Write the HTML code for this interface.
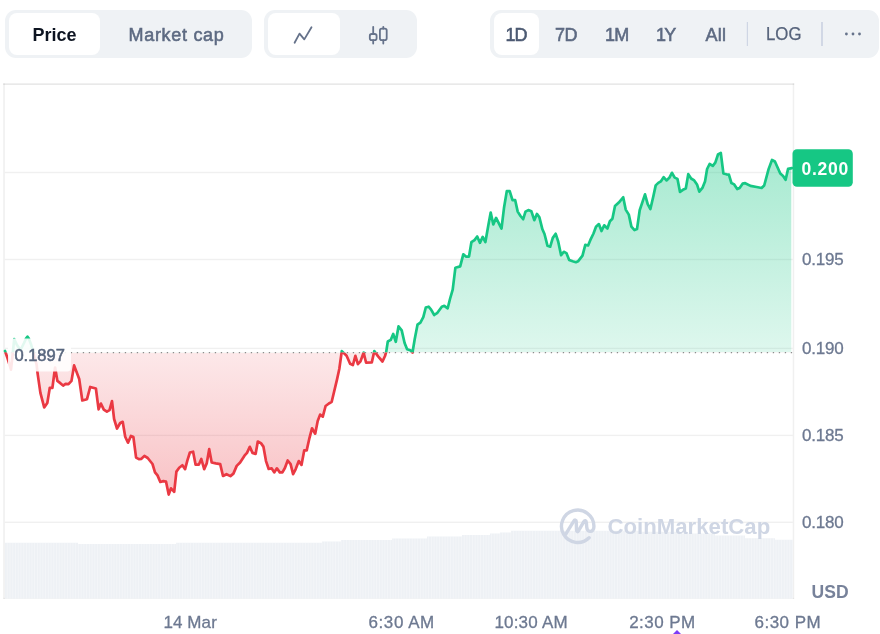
<!DOCTYPE html>
<html lang="en"><head><meta charset="utf-8"><title>Chart</title>
<style>
html,body{margin:0;padding:0;background:#fff;}
body{width:880px;height:634px;overflow:hidden;position:relative;font-family:"Liberation Sans",sans-serif;}
.seg{position:absolute;top:10px;height:48px;background:#eff2f5;border-radius:11px;}
.btn{position:absolute;top:3px;height:42px;background:#fff;border-radius:8px;}
.t{position:absolute;white-space:nowrap;color:#616e85;line-height:20px;height:20px;}
svg{position:absolute;left:0;top:0;}
.md{-webkit-text-stroke:0.55px currentColor;}
.ya,.xa{-webkit-text-stroke:0.3px currentColor;color:#6d7991;font-size:17px;}
</style></head><body>
<div class="seg" style="left:5px;width:247px"><div class="btn" style="left:3.5px;width:91.5px"></div></div>
<div class="seg" style="left:264px;width:153px"><div class="btn" style="left:3.5px;width:72px"></div></div>
<div class="seg" style="left:490px;width:388.5px"><div class="btn" style="left:3.5px;width:45px"></div></div>
<div class="t" id="tprice" style="left:32.5px;top:24.5px;font-size:18px;font-weight:bold;color:#0d1421;">Price</div>
<div class="t md" id="tmcap" style="left:128.5px;top:24.5px;font-size:18px;letter-spacing:0.7px;color:#5d6a82;">Market cap</div>
<div class="t rb md" id="t1d" style="left:505.6px;top:24.5px;font-size:18px;letter-spacing:-1.2px;color:#4c5a72;">1D</div>
<div class="t rb md" id="t7d" style="left:555.1px;top:24.5px;font-size:18px;letter-spacing:-0.7px;color:#5d6a82;">7D</div>
<div class="t rb md" id="t1m" style="left:605.1px;top:24.5px;font-size:18px;letter-spacing:-0.8px;color:#5d6a82;">1M</div>
<div class="t rb md" id="t1y" style="left:656px;top:24.5px;font-size:18px;letter-spacing:-1.7px;color:#5d6a82;">1Y</div>
<div class="t rb md" id="tall" style="left:705.5px;top:24.5px;font-size:18px;letter-spacing:0.3px;color:#5d6a82;">All</div>
<div class="t rb" id="tlog" style="left:766.2px;top:24.3px;font-size:18.8px;transform:scaleX(0.895);transform-origin:0 0;color:#56637b;-webkit-text-stroke:0.25px currentColor;">LOG</div>

<svg width="880" height="634" viewBox="0 0 880 634">
<defs>
<linearGradient id="gg" x1="0" y1="150" x2="0" y2="352.5" gradientUnits="userSpaceOnUse">
<stop offset="0" stop-color="#16c784" stop-opacity="0.385"/><stop offset="1" stop-color="#16c784" stop-opacity="0.14"/></linearGradient>
<linearGradient id="rg" x1="0" y1="352.5" x2="0" y2="496" gradientUnits="userSpaceOnUse">
<stop offset="0" stop-color="#ea3943" stop-opacity="0.115"/><stop offset="1" stop-color="#ea3943" stop-opacity="0.31"/></linearGradient>
<clipPath id="cu"><rect x="0" y="80" width="880" height="272.5"/></clipPath>
<clipPath id="cd"><rect x="0" y="352.5" width="880" height="260"/></clipPath>
<pattern id="vs" x="5" y="0" width="2.736" height="10" patternUnits="userSpaceOnUse"><rect x="2.1" y="0" width="0.64" height="10" fill="#fff" fill-opacity="0.45"/></pattern>
</defs>
<!-- toolbar icons -->
<g fill="none" stroke="#65728a" stroke-width="1.8" stroke-linecap="round" stroke-linejoin="round">
<path d="M294.6,42.7 L299.5,33.6 L304.3,39.4 L311.5,27.2"/>
<path d="M373.2,26.8 V34 M373.2,40.2 V43.6 M383.3,26.8 V28.7 M383.3,40.2 V43.6"/>
<rect x="369.8" y="34" width="6.8" height="6.2" rx="1.9"/>
<rect x="379.9" y="28.7" width="6.8" height="11.5" rx="1.9"/>
</g>
<path d="M747.4,22 V46" stroke="#cfd6e4" stroke-width="1.2" fill="none"/><path d="M822,22 V46" stroke="#cfd6e4" stroke-width="1.9" fill="none"/>
<g fill="#66738b"><circle cx="846.4" cy="34" r="1.4"/><circle cx="853" cy="34" r="1.4"/><circle cx="859.5" cy="34" r="1.4"/></g>

<!-- frame + grid -->
<g fill="#000">
<rect x="3.2" y="83.3" width="1.7" height="515.6" fill-opacity="0.06"/>
<rect x="792.7" y="83.3" width="1.5" height="515.6" fill-opacity="0.06"/>
<rect x="3.2" y="83.3" width="791" height="1.7" fill-opacity="0.085"/>
<rect x="3.2" y="597.8" width="791" height="1.2" fill-opacity="0.05"/>
<g fill-opacity="0.06">
<rect x="4.9" y="171.8" width="787.8" height="1.4"/>
<rect x="4.9" y="258.8" width="787.8" height="1.4"/>
<rect x="4.9" y="347.7" width="787.8" height="1.4"/>
<rect x="4.9" y="434.7" width="787.8" height="1.4"/>
<rect x="4.9" y="521.6" width="787.8" height="1.4"/>
</g></g>
<!-- volume -->
<path d="M5,598.4 L5,542.7 L78,542.7 L78,544.1 L176,544.1 L176,542.7 L322,542.7 L322,541.4 L341,541.4 L341,540.0 L392,540.0 L392,538.4 L427,538.4 L427,536.4 L462,536.4 L462,535.0 L490,535.0 L490,533.6 L500,533.6 L500,532.5 L511,532.5 L511,530.7 L640,530.7 L640,531.8 L680,531.8 L680,533.6 L715,533.6 L715,535.4 L745,535.4 L745,538.2 L775,538.2 L775,539.8 L793,539.8 L793,598.4 Z" fill="#eef1f5"/>
<path d="M5,598.4 L5,542.7 L78,542.7 L78,544.1 L176,544.1 L176,542.7 L322,542.7 L322,541.4 L341,541.4 L341,540.0 L392,540.0 L392,538.4 L427,538.4 L427,536.4 L462,536.4 L462,535.0 L490,535.0 L490,533.6 L500,533.6 L500,532.5 L511,532.5 L511,530.7 L640,530.7 L640,531.8 L680,531.8 L680,533.6 L715,533.6 L715,535.4 L745,535.4 L745,538.2 L775,538.2 L775,539.8 L793,539.8 L793,598.4 Z" fill="url(#vs)"/>
<!-- watermark -->
<g fill="none" stroke="#cfd6e4" stroke-width="3.4" stroke-linecap="round" stroke-linejoin="round">
<path d="M589.1,537.8 A16.2,16.2 0 1 1 593.9,526 C594.1,529.6 592.3,531.6 589.8,531.4 C587.4,531.2 586.9,529.4 586.7,526.9 L586.4,522.6 C586.1,520.2 584.7,520.0 583.7,521.8 L578.6,530.6 C577.7,532.3 576.6,532.0 576.5,530.2 L576.3,522.0 C576.2,519.6 574.7,519.4 573.6,521.4 L565.6,534.4"/>
</g>
<text x="607.5" y="534.2" font-family="Liberation Sans, sans-serif" font-weight="bold" font-size="22.2" fill="#cfd6e4" id="wm">CoinMarketCap</text>

<!-- area fills -->
<path d="M5.0,351.0 L7.5,358.0 L11.0,369.6 L12.6,355.0 L14.2,339.1 L17.0,345.0 L20.5,350.0 L24.0,343.0 L26.0,338.6 L27.4,336.7 L28.7,338.3 L31.1,344.5 L34.0,355.0 L36.6,364.6 L37.4,372.1 L40.4,392.9 L44.2,407.4 L47.3,403.0 L49.8,387.8 L52.4,387.8 L55.1,367.5 L57.4,380.9 L60.6,383.4 L63.1,385.6 L65.6,383.8 L68.5,384.1 L71.5,380.9 L74.1,365.4 L79.2,379.0 L82.3,400.5 L87.0,399.2 L90.2,387.0 L95.9,388.5 L98.6,409.3 L100.9,403.6 L103.8,409.6 L106.9,411.7 L109.5,410.2 L112.0,401.1 L114.1,419.0 L117.0,428.5 L120.2,423.0 L122.7,421.8 L125.2,436.7 L128.0,442.7 L130.9,436.0 L133.4,437.1 L136.1,457.6 L138.9,459.2 L141.4,458.8 L144.4,455.9 L147.7,458.0 L152.5,464.0 L155.0,472.3 L157.5,475.4 L160.3,482.0 L163.4,481.1 L166.0,481.5 L168.7,494.6 L171.0,488.3 L174.2,491.8 L176.4,471.6 L179.2,467.8 L182.4,465.3 L185.1,469.1 L187.4,460.3 L189.9,452.5 L193.1,451.7 L195.6,464.7 L198.8,464.7 L201.3,459.0 L204.2,469.1 L206.7,463.4 L209.2,449.2 L211.7,462.5 L215.8,463.4 L220.2,464.1 L223.0,476.0 L226.5,474.2 L230.4,476.1 L233.4,473.6 L236.7,465.9 L240.1,462.5 L244.5,455.7 L247.0,452.9 L249.8,446.8 L252.5,452.9 L255.6,453.9 L257.8,441.5 L260.9,443.1 L263.4,446.6 L266.0,461.1 L268.7,469.0 L271.6,468.3 L274.2,472.4 L276.9,468.3 L279.8,472.4 L282.4,472.4 L284.9,468.0 L287.7,460.5 L290.6,464.2 L293.1,474.1 L295.6,469.3 L298.8,461.1 L301.5,464.9 L304.2,450.4 L306.7,450.4 L309.5,437.8 L312.0,428.3 L315.2,433.7 L317.7,421.0 L320.1,414.6 L322.8,416.6 L325.6,406.0 L328.9,403.5 L331.7,401.8 L337.1,379.1 L339.3,369.0 L341.8,351.1 L346.6,355.8 L350.1,363.7 L352.9,365.0 L355.4,355.8 L357.9,364.2 L360.5,361.4 L363.6,352.6 L366.1,362.7 L371.8,362.5 L374.3,351.1 L378.1,356.4 L382.5,361.5 L385.0,356.0 L386.2,351.9 L387.8,341.5 L390.7,339.9 L393.2,333.9 L395.8,341.8 L398.5,326.4 L401.7,330.4 L404.6,343.0 L407.1,349.3 L410.3,350.3 L412.5,352.5 L414.7,339.2 L417.5,324.7 L420.4,322.6 L423.3,317.2 L425.8,307.5 L428.6,306.7 L431.1,309.6 L434.2,315.0 L437.4,312.8 L441.8,306.7 L444.3,305.8 L447.7,308.3 L450.0,299.0 L452.7,289.6 L455.4,267.7 L460.2,266.4 L463.3,254.3 L465.9,256.6 L469.0,256.6 L471.4,242.2 L474.5,240.1 L477.2,236.5 L479.9,242.8 L482.7,236.9 L485.4,242.1 L488.3,225.5 L490.7,212.5 L493.3,224.5 L496.1,217.9 L501.5,228.6 L504.1,207.2 L506.8,191.1 L509.7,191.1 L512.5,200.2 L515.2,200.2 L517.7,211.6 L520.5,216.0 L523.2,219.2 L525.5,211.6 L528.3,210.1 L531.4,211.3 L534.3,220.2 L536.9,213.9 L539.4,217.3 L542.4,229.3 L544.5,234.0 L547.5,245.8 L550.2,246.7 L552.8,237.9 L555.7,233.8 L558.2,241.5 L561.1,255.3 L563.8,251.8 L566.4,253.1 L569.2,260.0 L572.7,261.3 L575.9,262.2 L578.0,261.3 L582.5,255.6 L585.3,244.9 L588.1,245.5 L591.0,238.6 L593.5,233.5 L596.0,226.8 L598.9,224.1 L601.5,231.0 L604.2,225.3 L607.4,228.5 L609.9,221.3 L612.4,218.8 L615.0,206.1 L618.8,202.6 L623.2,197.3 L625.7,209.6 L628.8,214.6 L631.4,226.6 L634.5,230.1 L637.0,229.1 L639.7,210.2 L642.5,201.9 L645.0,194.4 L647.7,204.1 L650.4,209.0 L653.3,196.5 L655.7,185.4 L658.3,182.9 L660.8,181.4 L663.6,177.2 L666.5,180.4 L669.3,177.8 L671.9,172.8 L674.7,177.6 L677.5,178.9 L680.0,192.0 L682.9,189.8 L685.8,188.6 L688.3,174.1 L691.1,178.5 L694.2,180.4 L697.0,184.4 L699.3,191.7 L702.4,187.9 L705.0,181.6 L707.1,169.0 L709.6,164.0 L712.8,165.9 L715.3,162.7 L718.0,154.5 L720.8,153.0 L723.4,173.4 L726.4,174.3 L728.9,174.7 L731.4,183.0 L734.2,184.4 L737.2,189.1 L739.6,188.0 L742.6,183.7 L745.2,183.2 L750.5,185.9 L756.6,187.0 L761.6,188.0 L764.2,185.5 L768.6,169.1 L772.0,160.0 L774.9,161.5 L780.3,173.5 L783.1,176.0 L785.6,179.8 L788.1,168.9 L791.3,168.1 L791.3,352.5 L5.0,352.5 Z" fill="url(#gg)" clip-path="url(#cu)"/>
<path d="M5.0,351.0 L7.5,358.0 L11.0,369.6 L12.6,355.0 L14.2,339.1 L17.0,345.0 L20.5,350.0 L24.0,343.0 L26.0,338.6 L27.4,336.7 L28.7,338.3 L31.1,344.5 L34.0,355.0 L36.6,364.6 L37.4,372.1 L40.4,392.9 L44.2,407.4 L47.3,403.0 L49.8,387.8 L52.4,387.8 L55.1,367.5 L57.4,380.9 L60.6,383.4 L63.1,385.6 L65.6,383.8 L68.5,384.1 L71.5,380.9 L74.1,365.4 L79.2,379.0 L82.3,400.5 L87.0,399.2 L90.2,387.0 L95.9,388.5 L98.6,409.3 L100.9,403.6 L103.8,409.6 L106.9,411.7 L109.5,410.2 L112.0,401.1 L114.1,419.0 L117.0,428.5 L120.2,423.0 L122.7,421.8 L125.2,436.7 L128.0,442.7 L130.9,436.0 L133.4,437.1 L136.1,457.6 L138.9,459.2 L141.4,458.8 L144.4,455.9 L147.7,458.0 L152.5,464.0 L155.0,472.3 L157.5,475.4 L160.3,482.0 L163.4,481.1 L166.0,481.5 L168.7,494.6 L171.0,488.3 L174.2,491.8 L176.4,471.6 L179.2,467.8 L182.4,465.3 L185.1,469.1 L187.4,460.3 L189.9,452.5 L193.1,451.7 L195.6,464.7 L198.8,464.7 L201.3,459.0 L204.2,469.1 L206.7,463.4 L209.2,449.2 L211.7,462.5 L215.8,463.4 L220.2,464.1 L223.0,476.0 L226.5,474.2 L230.4,476.1 L233.4,473.6 L236.7,465.9 L240.1,462.5 L244.5,455.7 L247.0,452.9 L249.8,446.8 L252.5,452.9 L255.6,453.9 L257.8,441.5 L260.9,443.1 L263.4,446.6 L266.0,461.1 L268.7,469.0 L271.6,468.3 L274.2,472.4 L276.9,468.3 L279.8,472.4 L282.4,472.4 L284.9,468.0 L287.7,460.5 L290.6,464.2 L293.1,474.1 L295.6,469.3 L298.8,461.1 L301.5,464.9 L304.2,450.4 L306.7,450.4 L309.5,437.8 L312.0,428.3 L315.2,433.7 L317.7,421.0 L320.1,414.6 L322.8,416.6 L325.6,406.0 L328.9,403.5 L331.7,401.8 L337.1,379.1 L339.3,369.0 L341.8,351.1 L346.6,355.8 L350.1,363.7 L352.9,365.0 L355.4,355.8 L357.9,364.2 L360.5,361.4 L363.6,352.6 L366.1,362.7 L371.8,362.5 L374.3,351.1 L378.1,356.4 L382.5,361.5 L385.0,356.0 L386.2,351.9 L387.8,341.5 L390.7,339.9 L393.2,333.9 L395.8,341.8 L398.5,326.4 L401.7,330.4 L404.6,343.0 L407.1,349.3 L410.3,350.3 L412.5,352.5 L414.7,339.2 L417.5,324.7 L420.4,322.6 L423.3,317.2 L425.8,307.5 L428.6,306.7 L431.1,309.6 L434.2,315.0 L437.4,312.8 L441.8,306.7 L444.3,305.8 L447.7,308.3 L450.0,299.0 L452.7,289.6 L455.4,267.7 L460.2,266.4 L463.3,254.3 L465.9,256.6 L469.0,256.6 L471.4,242.2 L474.5,240.1 L477.2,236.5 L479.9,242.8 L482.7,236.9 L485.4,242.1 L488.3,225.5 L490.7,212.5 L493.3,224.5 L496.1,217.9 L501.5,228.6 L504.1,207.2 L506.8,191.1 L509.7,191.1 L512.5,200.2 L515.2,200.2 L517.7,211.6 L520.5,216.0 L523.2,219.2 L525.5,211.6 L528.3,210.1 L531.4,211.3 L534.3,220.2 L536.9,213.9 L539.4,217.3 L542.4,229.3 L544.5,234.0 L547.5,245.8 L550.2,246.7 L552.8,237.9 L555.7,233.8 L558.2,241.5 L561.1,255.3 L563.8,251.8 L566.4,253.1 L569.2,260.0 L572.7,261.3 L575.9,262.2 L578.0,261.3 L582.5,255.6 L585.3,244.9 L588.1,245.5 L591.0,238.6 L593.5,233.5 L596.0,226.8 L598.9,224.1 L601.5,231.0 L604.2,225.3 L607.4,228.5 L609.9,221.3 L612.4,218.8 L615.0,206.1 L618.8,202.6 L623.2,197.3 L625.7,209.6 L628.8,214.6 L631.4,226.6 L634.5,230.1 L637.0,229.1 L639.7,210.2 L642.5,201.9 L645.0,194.4 L647.7,204.1 L650.4,209.0 L653.3,196.5 L655.7,185.4 L658.3,182.9 L660.8,181.4 L663.6,177.2 L666.5,180.4 L669.3,177.8 L671.9,172.8 L674.7,177.6 L677.5,178.9 L680.0,192.0 L682.9,189.8 L685.8,188.6 L688.3,174.1 L691.1,178.5 L694.2,180.4 L697.0,184.4 L699.3,191.7 L702.4,187.9 L705.0,181.6 L707.1,169.0 L709.6,164.0 L712.8,165.9 L715.3,162.7 L718.0,154.5 L720.8,153.0 L723.4,173.4 L726.4,174.3 L728.9,174.7 L731.4,183.0 L734.2,184.4 L737.2,189.1 L739.6,188.0 L742.6,183.7 L745.2,183.2 L750.5,185.9 L756.6,187.0 L761.6,188.0 L764.2,185.5 L768.6,169.1 L772.0,160.0 L774.9,161.5 L780.3,173.5 L783.1,176.0 L785.6,179.8 L788.1,168.9 L791.3,168.1 L791.3,352.5 L5.0,352.5 Z" fill="url(#rg)" clip-path="url(#cd)"/>
<!-- baseline dots -->
<path d="M4.8,352.6 H793" stroke="#7a7a7a" stroke-opacity="0.85" stroke-width="1.4" stroke-dasharray="1.3 4.7" fill="none"/>
<!-- line -->
<path d="M5.0,351.0 L7.5,358.0 L11.0,369.6 L12.6,355.0 L14.2,339.1 L17.0,345.0 L20.5,350.0 L24.0,343.0 L26.0,338.6 L27.4,336.7 L28.7,338.3 L31.1,344.5 L34.0,355.0 L36.6,364.6 L37.4,372.1 L40.4,392.9 L44.2,407.4 L47.3,403.0 L49.8,387.8 L52.4,387.8 L55.1,367.5 L57.4,380.9 L60.6,383.4 L63.1,385.6 L65.6,383.8 L68.5,384.1 L71.5,380.9 L74.1,365.4 L79.2,379.0 L82.3,400.5 L87.0,399.2 L90.2,387.0 L95.9,388.5 L98.6,409.3 L100.9,403.6 L103.8,409.6 L106.9,411.7 L109.5,410.2 L112.0,401.1 L114.1,419.0 L117.0,428.5 L120.2,423.0 L122.7,421.8 L125.2,436.7 L128.0,442.7 L130.9,436.0 L133.4,437.1 L136.1,457.6 L138.9,459.2 L141.4,458.8 L144.4,455.9 L147.7,458.0 L152.5,464.0 L155.0,472.3 L157.5,475.4 L160.3,482.0 L163.4,481.1 L166.0,481.5 L168.7,494.6 L171.0,488.3 L174.2,491.8 L176.4,471.6 L179.2,467.8 L182.4,465.3 L185.1,469.1 L187.4,460.3 L189.9,452.5 L193.1,451.7 L195.6,464.7 L198.8,464.7 L201.3,459.0 L204.2,469.1 L206.7,463.4 L209.2,449.2 L211.7,462.5 L215.8,463.4 L220.2,464.1 L223.0,476.0 L226.5,474.2 L230.4,476.1 L233.4,473.6 L236.7,465.9 L240.1,462.5 L244.5,455.7 L247.0,452.9 L249.8,446.8 L252.5,452.9 L255.6,453.9 L257.8,441.5 L260.9,443.1 L263.4,446.6 L266.0,461.1 L268.7,469.0 L271.6,468.3 L274.2,472.4 L276.9,468.3 L279.8,472.4 L282.4,472.4 L284.9,468.0 L287.7,460.5 L290.6,464.2 L293.1,474.1 L295.6,469.3 L298.8,461.1 L301.5,464.9 L304.2,450.4 L306.7,450.4 L309.5,437.8 L312.0,428.3 L315.2,433.7 L317.7,421.0 L320.1,414.6 L322.8,416.6 L325.6,406.0 L328.9,403.5 L331.7,401.8 L337.1,379.1 L339.3,369.0 L341.8,351.1 L346.6,355.8 L350.1,363.7 L352.9,365.0 L355.4,355.8 L357.9,364.2 L360.5,361.4 L363.6,352.6 L366.1,362.7 L371.8,362.5 L374.3,351.1 L378.1,356.4 L382.5,361.5 L385.0,356.0 L386.2,351.9 L387.8,341.5 L390.7,339.9 L393.2,333.9 L395.8,341.8 L398.5,326.4 L401.7,330.4 L404.6,343.0 L407.1,349.3 L410.3,350.3 L412.5,352.5 L414.7,339.2 L417.5,324.7 L420.4,322.6 L423.3,317.2 L425.8,307.5 L428.6,306.7 L431.1,309.6 L434.2,315.0 L437.4,312.8 L441.8,306.7 L444.3,305.8 L447.7,308.3 L450.0,299.0 L452.7,289.6 L455.4,267.7 L460.2,266.4 L463.3,254.3 L465.9,256.6 L469.0,256.6 L471.4,242.2 L474.5,240.1 L477.2,236.5 L479.9,242.8 L482.7,236.9 L485.4,242.1 L488.3,225.5 L490.7,212.5 L493.3,224.5 L496.1,217.9 L501.5,228.6 L504.1,207.2 L506.8,191.1 L509.7,191.1 L512.5,200.2 L515.2,200.2 L517.7,211.6 L520.5,216.0 L523.2,219.2 L525.5,211.6 L528.3,210.1 L531.4,211.3 L534.3,220.2 L536.9,213.9 L539.4,217.3 L542.4,229.3 L544.5,234.0 L547.5,245.8 L550.2,246.7 L552.8,237.9 L555.7,233.8 L558.2,241.5 L561.1,255.3 L563.8,251.8 L566.4,253.1 L569.2,260.0 L572.7,261.3 L575.9,262.2 L578.0,261.3 L582.5,255.6 L585.3,244.9 L588.1,245.5 L591.0,238.6 L593.5,233.5 L596.0,226.8 L598.9,224.1 L601.5,231.0 L604.2,225.3 L607.4,228.5 L609.9,221.3 L612.4,218.8 L615.0,206.1 L618.8,202.6 L623.2,197.3 L625.7,209.6 L628.8,214.6 L631.4,226.6 L634.5,230.1 L637.0,229.1 L639.7,210.2 L642.5,201.9 L645.0,194.4 L647.7,204.1 L650.4,209.0 L653.3,196.5 L655.7,185.4 L658.3,182.9 L660.8,181.4 L663.6,177.2 L666.5,180.4 L669.3,177.8 L671.9,172.8 L674.7,177.6 L677.5,178.9 L680.0,192.0 L682.9,189.8 L685.8,188.6 L688.3,174.1 L691.1,178.5 L694.2,180.4 L697.0,184.4 L699.3,191.7 L702.4,187.9 L705.0,181.6 L707.1,169.0 L709.6,164.0 L712.8,165.9 L715.3,162.7 L718.0,154.5 L720.8,153.0 L723.4,173.4 L726.4,174.3 L728.9,174.7 L731.4,183.0 L734.2,184.4 L737.2,189.1 L739.6,188.0 L742.6,183.7 L745.2,183.2 L750.5,185.9 L756.6,187.0 L761.6,188.0 L764.2,185.5 L768.6,169.1 L772.0,160.0 L774.9,161.5 L780.3,173.5 L783.1,176.0 L785.6,179.8 L788.1,168.9 L791.9,168.1" fill="none" stroke="#16c784" stroke-width="2.7" stroke-linejoin="round" stroke-linecap="round" clip-path="url(#cu)"/>
<path d="M5.0,351.0 L7.5,358.0 L11.0,369.6 L12.6,355.0 L14.2,339.1 L17.0,345.0 L20.5,350.0 L24.0,343.0 L26.0,338.6 L27.4,336.7 L28.7,338.3 L31.1,344.5 L34.0,355.0 L36.6,364.6 L37.4,372.1 L40.4,392.9 L44.2,407.4 L47.3,403.0 L49.8,387.8 L52.4,387.8 L55.1,367.5 L57.4,380.9 L60.6,383.4 L63.1,385.6 L65.6,383.8 L68.5,384.1 L71.5,380.9 L74.1,365.4 L79.2,379.0 L82.3,400.5 L87.0,399.2 L90.2,387.0 L95.9,388.5 L98.6,409.3 L100.9,403.6 L103.8,409.6 L106.9,411.7 L109.5,410.2 L112.0,401.1 L114.1,419.0 L117.0,428.5 L120.2,423.0 L122.7,421.8 L125.2,436.7 L128.0,442.7 L130.9,436.0 L133.4,437.1 L136.1,457.6 L138.9,459.2 L141.4,458.8 L144.4,455.9 L147.7,458.0 L152.5,464.0 L155.0,472.3 L157.5,475.4 L160.3,482.0 L163.4,481.1 L166.0,481.5 L168.7,494.6 L171.0,488.3 L174.2,491.8 L176.4,471.6 L179.2,467.8 L182.4,465.3 L185.1,469.1 L187.4,460.3 L189.9,452.5 L193.1,451.7 L195.6,464.7 L198.8,464.7 L201.3,459.0 L204.2,469.1 L206.7,463.4 L209.2,449.2 L211.7,462.5 L215.8,463.4 L220.2,464.1 L223.0,476.0 L226.5,474.2 L230.4,476.1 L233.4,473.6 L236.7,465.9 L240.1,462.5 L244.5,455.7 L247.0,452.9 L249.8,446.8 L252.5,452.9 L255.6,453.9 L257.8,441.5 L260.9,443.1 L263.4,446.6 L266.0,461.1 L268.7,469.0 L271.6,468.3 L274.2,472.4 L276.9,468.3 L279.8,472.4 L282.4,472.4 L284.9,468.0 L287.7,460.5 L290.6,464.2 L293.1,474.1 L295.6,469.3 L298.8,461.1 L301.5,464.9 L304.2,450.4 L306.7,450.4 L309.5,437.8 L312.0,428.3 L315.2,433.7 L317.7,421.0 L320.1,414.6 L322.8,416.6 L325.6,406.0 L328.9,403.5 L331.7,401.8 L337.1,379.1 L339.3,369.0 L341.8,351.1 L346.6,355.8 L350.1,363.7 L352.9,365.0 L355.4,355.8 L357.9,364.2 L360.5,361.4 L363.6,352.6 L366.1,362.7 L371.8,362.5 L374.3,351.1 L378.1,356.4 L382.5,361.5 L385.0,356.0 L386.2,351.9 L387.8,341.5 L390.7,339.9 L393.2,333.9 L395.8,341.8 L398.5,326.4 L401.7,330.4 L404.6,343.0 L407.1,349.3 L410.3,350.3 L412.5,352.5 L414.7,339.2 L417.5,324.7 L420.4,322.6 L423.3,317.2 L425.8,307.5 L428.6,306.7 L431.1,309.6 L434.2,315.0 L437.4,312.8 L441.8,306.7 L444.3,305.8 L447.7,308.3 L450.0,299.0 L452.7,289.6 L455.4,267.7 L460.2,266.4 L463.3,254.3 L465.9,256.6 L469.0,256.6 L471.4,242.2 L474.5,240.1 L477.2,236.5 L479.9,242.8 L482.7,236.9 L485.4,242.1 L488.3,225.5 L490.7,212.5 L493.3,224.5 L496.1,217.9 L501.5,228.6 L504.1,207.2 L506.8,191.1 L509.7,191.1 L512.5,200.2 L515.2,200.2 L517.7,211.6 L520.5,216.0 L523.2,219.2 L525.5,211.6 L528.3,210.1 L531.4,211.3 L534.3,220.2 L536.9,213.9 L539.4,217.3 L542.4,229.3 L544.5,234.0 L547.5,245.8 L550.2,246.7 L552.8,237.9 L555.7,233.8 L558.2,241.5 L561.1,255.3 L563.8,251.8 L566.4,253.1 L569.2,260.0 L572.7,261.3 L575.9,262.2 L578.0,261.3 L582.5,255.6 L585.3,244.9 L588.1,245.5 L591.0,238.6 L593.5,233.5 L596.0,226.8 L598.9,224.1 L601.5,231.0 L604.2,225.3 L607.4,228.5 L609.9,221.3 L612.4,218.8 L615.0,206.1 L618.8,202.6 L623.2,197.3 L625.7,209.6 L628.8,214.6 L631.4,226.6 L634.5,230.1 L637.0,229.1 L639.7,210.2 L642.5,201.9 L645.0,194.4 L647.7,204.1 L650.4,209.0 L653.3,196.5 L655.7,185.4 L658.3,182.9 L660.8,181.4 L663.6,177.2 L666.5,180.4 L669.3,177.8 L671.9,172.8 L674.7,177.6 L677.5,178.9 L680.0,192.0 L682.9,189.8 L685.8,188.6 L688.3,174.1 L691.1,178.5 L694.2,180.4 L697.0,184.4 L699.3,191.7 L702.4,187.9 L705.0,181.6 L707.1,169.0 L709.6,164.0 L712.8,165.9 L715.3,162.7 L718.0,154.5 L720.8,153.0 L723.4,173.4 L726.4,174.3 L728.9,174.7 L731.4,183.0 L734.2,184.4 L737.2,189.1 L739.6,188.0 L742.6,183.7 L745.2,183.2 L750.5,185.9 L756.6,187.0 L761.6,188.0 L764.2,185.5 L768.6,169.1 L772.0,160.0 L774.9,161.5 L780.3,173.5 L783.1,176.0 L785.6,179.8 L788.1,168.9 L791.9,168.1" fill="none" stroke="#ea3943" stroke-width="2.7" stroke-linejoin="round" stroke-linecap="round" clip-path="url(#cd)"/>
<!-- start label -->
<rect x="8" y="338.5" width="63" height="33" rx="4" fill="#fff" fill-opacity="0.88"/>
<!-- price tag -->
<rect x="792.5" y="149.2" width="60.3" height="37.6" rx="4.5" fill="#16c784"/>
<!-- purple marker -->
<path d="M677,630 L682,635 L672,635 Z" fill="#7d3cf8"/>
</svg>
<div class="t md" id="tstart" style="left:14.4px;top:344.8px;font-size:16.5px;color:#58667e;">0.1897</div>
<div class="t" id="tcur" style="left:801.6px;top:158.9px;font-size:17.5px;font-weight:bold;letter-spacing:0.7px;color:#fff;">0.200</div>
<div class="t ya" style="left:802.0px;top:250.0px;letter-spacing:-0.2px;">0.195</div>
<div class="t ya" style="left:802.0px;top:339.0px;letter-spacing:-0.2px;">0.190</div>
<div class="t ya" style="left:802.0px;top:426.0px;letter-spacing:-0.2px;">0.185</div>
<div class="t ya" style="left:802.0px;top:513.0px;letter-spacing:-0.2px;">0.180</div>
<div class="t" id="tusd" style="left:811.4px;top:582.2px;font-size:17.5px;font-weight:bold;letter-spacing:0.2px;color:#77829a;">USD</div>
<div class="t xa" style="left:163.4px;top:612.7px;letter-spacing:0.1px;">14 Mar</div>
<div class="t xa" style="left:368.6px;top:612.7px;letter-spacing:0.55px;">6:30 AM</div>
<div class="t xa" style="left:494.4px;top:612.7px;letter-spacing:0.2px;">10:30 AM</div>
<div class="t xa" style="left:629.2px;top:612.7px;letter-spacing:0.45px;">2:30 PM</div>
<div class="t xa" style="left:754.6px;top:612.7px;letter-spacing:0.45px;">6:30 PM</div>
</body></html>
